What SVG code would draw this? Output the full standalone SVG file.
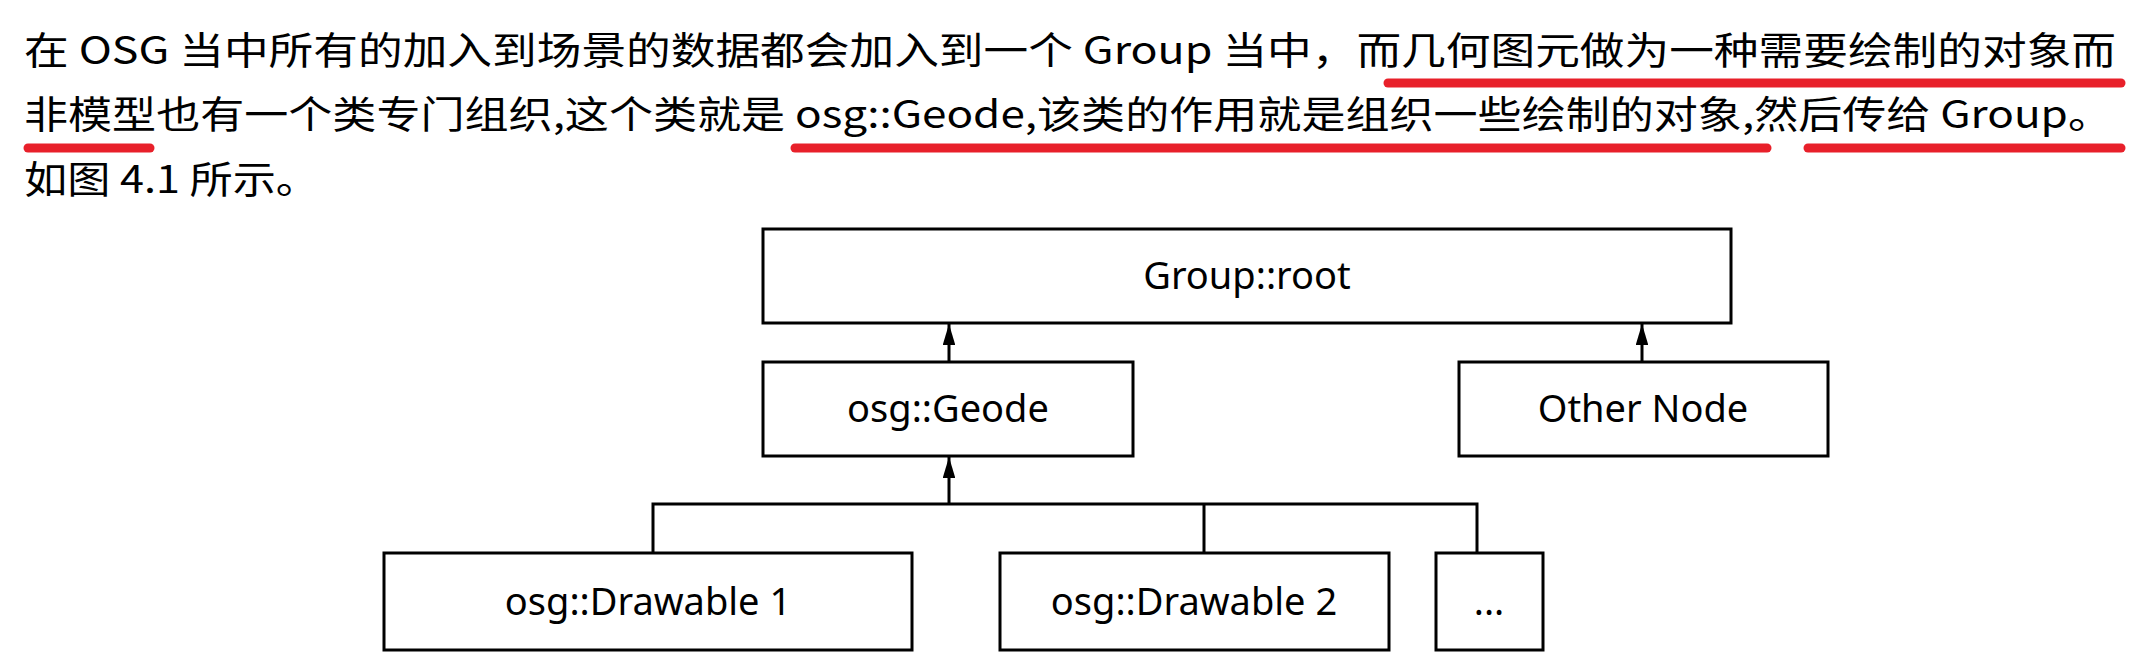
<svg xmlns="http://www.w3.org/2000/svg" width="2148" height="671" viewBox="0 0 2148 671">
<style>
.t{font-family:"Noto Sans CJK SC","Noto Sans",sans-serif;font-size:38px;fill:#000}
.b{fill:#fff;stroke:#000;stroke-width:3}
.l{font-family:"Noto Sans","Liberation Sans",sans-serif;font-size:38px;fill:#000;text-anchor:middle}
.c{fill:none;stroke:#000;stroke-width:3}
.u{stroke:#e8202a;stroke-width:9;stroke-linecap:round}
</style>
<defs><marker id="a" viewBox="0 0 10 10" refX="10" refY="5" markerWidth="7" markerHeight="4.2" orient="auto" markerUnits="strokeWidth" preserveAspectRatio="none"><path d="M0,0L10,5L0,10z" fill="#000"/></marker></defs>
<rect width="2148" height="671" fill="#fff"/>
<g id="text">
<text class="t" x="24" y="64" textLength="2092" lengthAdjust="spacingAndGlyphs">在 OSG 当中所有的加入到场景的数据都会加入到一个 Group 当中，而几何图元做为一种需要绘制的对象而</text>
<text class="t" x="24" y="128" textLength="2088" lengthAdjust="spacingAndGlyphs">非模型也有一个类专门组织,这个类就是 osg::Geode,该类的作用就是组织一些绘制的对象,然后传给 Group。</text>
<text class="t" x="24" y="193" textLength="295" lengthAdjust="spacingAndGlyphs">如图 4.1 所示。</text>
<line class="u" x1="1388" y1="83" x2="2121" y2="83"/>
<line class="u" x1="28" y1="148" x2="150" y2="148"/>
<line class="u" x1="795" y1="148" x2="1767" y2="148"/>
<line class="u" x1="1808" y1="148" x2="2121" y2="148"/>
</g>
<g id="root"><rect class="b" x="763" y="229" width="968" height="94"/><text class="l" x="1247" y="289">Group::root</text></g>
<g id="geode"><rect class="b" x="763" y="362" width="370" height="94"/><text class="l" x="948" y="422">osg::Geode</text></g>
<g id="other"><rect class="b" x="1459" y="362" width="369" height="94"/><text class="l" x="1643" y="422">Other Node</text></g>
<g id="d1"><rect class="b" x="384" y="553" width="528" height="97"/><text class="l" x="648" y="615">osg::Drawable 1</text></g>
<g id="d2"><rect class="b" x="1000" y="553" width="389" height="97"/><text class="l" x="1194" y="615">osg::Drawable 2</text></g>
<g id="d3"><rect class="b" x="1436" y="553" width="107" height="97"/><text class="l" x="1489" y="615">...</text></g>
<g id="connectors">
<line class="c" x1="949" y1="362" x2="949" y2="324" marker-end="url(#a)"/>
<line class="c" x1="1642" y1="362" x2="1642" y2="324" marker-end="url(#a)"/>
<line class="c" x1="949" y1="504" x2="949" y2="457" marker-end="url(#a)"/>
<path class="c" d="M653,553V504H1477V553M1204,504V553"/>
</g>
</svg>
